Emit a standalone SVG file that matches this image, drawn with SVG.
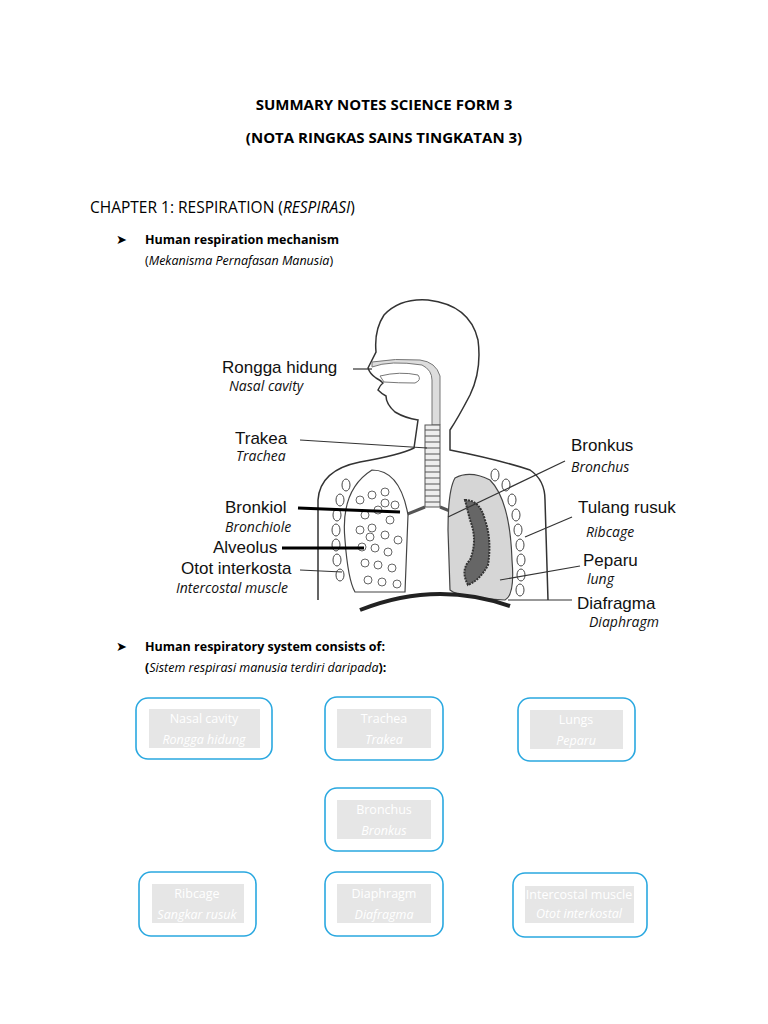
<svg xmlns="http://www.w3.org/2000/svg" width="768" height="1024" viewBox="0 0 768 1024">
<style>
.t{font-family:"Open Sans","Liberation Sans",sans-serif;fill:#000}
.a{font-family:"Liberation Sans",Arial,sans-serif;fill:#111;font-size:17px}
.ai{font-family:"Open Sans","Liberation Sans",sans-serif;font-style:italic;fill:#111;font-size:14px}
.o{fill:none;stroke:#333;stroke-width:1.5}
.box{fill:#fff;stroke:#2aa8e0;stroke-width:1.6}
.in{fill:#e6e6e6}
.bt{font-family:"Open Sans","Liberation Sans",sans-serif;fill:#fff;font-size:12.5px;text-anchor:middle}
.bi{font-style:italic}
.ln{stroke:#333;stroke-width:1.2;fill:none}
.th{stroke:#000;stroke-width:3;fill:none}
.rib{fill:#fff;stroke:#444;stroke-width:1}
</style>
<rect width="768" height="1024" fill="#fff"/>
<text class="t" x="384" y="110" font-size="15" font-weight="bold" text-anchor="middle">SUMMARY NOTES SCIENCE FORM 3</text>
<text class="t" x="384" y="143" font-size="15" font-weight="bold" text-anchor="middle">(NOTA RINGKAS SAINS TINGKATAN 3)</text>
<text class="t" x="90" y="213" font-size="15.5">CHAPTER 1: RESPIRATION (<tspan font-style="italic">RESPIRASI</tspan>)</text>
<text class="t" x="116" y="244" font-size="13">➤</text>
<text class="t" x="145" y="244" font-size="12.5" font-weight="bold">Human respiration mechanism</text>
<text class="t" x="145" y="265" font-size="12.5">(<tspan font-style="italic">Mekanisma Pernafasan Manusia</tspan>)</text>
<text class="t" x="116" y="651" font-size="13">➤</text>
<text class="t" x="145" y="651" font-size="12.5" font-weight="bold">Human respiratory system consists of:</text>
<text class="t" x="145" y="672" font-size="12.5"><tspan font-weight="bold">(</tspan><tspan font-style="italic">Sistem respirasi manusia terdiri daripada</tspan><tspan font-weight="bold">):</tspan></text>

<g id="anatomy">
<path class="o" d="M318,600 L318,500 Q320,470 360,462 Q400,455 414,448 L418,420 Q405,418 395,412 Q386,404 386,396 Q382,394 378,390 Q380,385 383,383 Q380,380 376,378 Q370,374 368,368 Q372,360 376,352 Q374,330 384,315 Q400,298 428,300 Q470,305 478,340 Q482,370 470,395 Q458,418 450,430 L450,450 Q500,460 530,470 Q545,480 545,500 L548,600"/>
<path d="M372,367 Q390,360 422,365 Q432,370 432,380 L432,425 L440,425 L440,376 Q436,362 420,360 Q395,358 372,362 Z" fill="#ddd" stroke="#777" stroke-width="1"/>
<path d="M380,376 Q400,371 418,375 Q422,380 415,383 Q398,383 384,382 Z" fill="#fff" stroke="#777" stroke-width="1"/>
<g stroke="#555" stroke-width="1" fill="#eee">
<rect x="425" y="425" width="15" height="82"/>
<path d="M425,430h15M425,436h15M425,442h15M425,448h15M425,454h15M425,460h15M425,466h15M425,472h15M425,478h15M425,484h15M425,490h15M425,496h15M425,502h15" fill="none"/>
<path d="M425,507 L405,515 L400,522 M440,507 L460,515 L465,522" fill="none" stroke-width="3"/>
</g>
<path d="M372,470 Q340,490 345,540 Q348,580 355,592 L405,592 L408,515 Q400,470 372,470 Z" fill="#fff" stroke="#444" stroke-width="1.2"/>
<g fill="#fff" stroke="#555" stroke-width="0.9">
<circle cx="360" cy="500" r="4"/><circle cx="372" cy="495" r="4"/><circle cx="385" cy="492" r="4"/><circle cx="395" cy="505" r="4"/><circle cx="365" cy="515" r="4"/><circle cx="378" cy="510" r="4"/><circle cx="390" cy="520" r="4"/><circle cx="360" cy="530" r="4"/><circle cx="372" cy="528" r="4"/><circle cx="385" cy="535" r="4"/><circle cx="398" cy="540" r="4"/><circle cx="362" cy="547" r="4"/><circle cx="375" cy="548" r="4"/><circle cx="388" cy="552" r="4"/><circle cx="365" cy="563" r="4"/><circle cx="378" cy="565" r="4"/><circle cx="392" cy="568" r="4"/><circle cx="368" cy="580" r="4"/><circle cx="382" cy="582" r="4"/><circle cx="397" cy="584" r="4"/><circle cx="370" cy="537" r="4"/><circle cx="385" cy="503" r="4"/>
</g>
<path d="M455,478 Q448,490 448,530 L450,590 Q460,598 505,600 Q515,595 512,560 Q510,500 490,480 Q470,470 455,478 Z" fill="#d6d6d6" stroke="#444" stroke-width="1.2"/>
<path d="M465,500 Q480,500 485,520 Q492,540 488,565 Q480,580 468,585 Q460,570 470,560 Q478,540 470,520 Z" fill="#666" stroke="#333" stroke-width="2" stroke-dasharray="2 1"/>
<g class="rib">
<ellipse cx="346" cy="485" rx="4" ry="6"/><ellipse cx="340" cy="500" rx="4" ry="6"/><ellipse cx="337" cy="515" rx="4" ry="6"/><ellipse cx="336" cy="530" rx="4" ry="6"/><ellipse cx="336" cy="545" rx="4" ry="6"/><ellipse cx="337" cy="560" rx="4" ry="6"/><ellipse cx="340" cy="575" rx="4" ry="6"/>
<ellipse cx="495" cy="475" rx="4" ry="6"/><ellipse cx="506" cy="485" rx="4" ry="6"/><ellipse cx="512" cy="500" rx="4" ry="6"/><ellipse cx="516" cy="515" rx="4" ry="6"/><ellipse cx="518" cy="530" rx="4" ry="6"/><ellipse cx="520" cy="545" rx="4" ry="6"/><ellipse cx="521" cy="560" rx="4" ry="6"/><ellipse cx="521" cy="575" rx="4" ry="6"/><ellipse cx="520" cy="590" rx="4" ry="6"/>
</g>
<path d="M360,610 Q435,580 510,606" fill="none" stroke="#222" stroke-width="4"/>
</g>

<g id="labels">
<text class="a" x="222" y="373">Rongga hidung</text><text class="ai" x="229" y="391">Nasal cavity</text>
<text class="a" x="235" y="444">Trakea</text><text class="ai" x="236" y="461">Trachea</text>
<text class="a" x="571" y="451">Bronkus</text><text class="ai" x="571" y="472">Bronchus</text>
<text class="a" x="225" y="513">Bronkiol</text><text class="ai" x="225" y="532">Bronchiole</text>
<text class="a" x="213" y="553">Alveolus</text>
<text class="a" x="181" y="574">Otot interkosta</text><text class="ai" x="176" y="593">Intercostal muscle</text>
<text class="a" x="578" y="513">Tulang rusuk</text><text class="ai" x="586" y="537">Ribcage</text>
<text class="a" x="583" y="566">Peparu</text><text class="ai" x="587" y="584">lung</text>
<text class="a" x="577" y="609">Diafragma</text><text class="ai" x="589" y="627">Diaphragm</text>
</g>
<g id="connectors">
<path class="ln" d="M353,369 L372,369"/>
<path class="ln" d="M300,440 L427,448"/>
<path class="ln" d="M565,461 L448,517"/>
<path class="th" d="M298,508 L400,512"/>
<path class="th" d="M282,548 L364,548"/>
<path class="ln" d="M300,570 L342,572"/>
<path class="ln" d="M572,517 L525,537"/>
<path class="ln" d="M580,566 L500,580"/>
<path class="ln" d="M508,600 L572,600"/>
</g>

<g id="n1"><rect class="box" x="136" y="698" width="136" height="61" rx="12"/><rect class="in" x="149" y="709" width="111" height="39"/><text class="bt" x="204" y="723">Nasal cavity</text><text class="bt bi" x="204" y="744">Rongga hidung</text></g>
<g id="n2"><rect class="box" x="325" y="697" width="118" height="63" rx="12"/><rect class="in" x="337" y="709" width="94" height="39"/><text class="bt" x="384" y="723">Trachea</text><text class="bt bi" x="384" y="744">Trakea</text></g>
<g id="n3"><rect class="box" x="518" y="698" width="117" height="63" rx="12"/><rect class="in" x="530" y="710" width="93" height="39"/><text class="bt" x="576" y="724">Lungs</text><text class="bt bi" x="576" y="745">Peparu</text></g>
<g id="n4"><rect class="box" x="325" y="788" width="118" height="63" rx="12"/><rect class="in" x="337" y="800" width="94" height="39"/><text class="bt" x="384" y="814">Bronchus</text><text class="bt bi" x="384" y="835">Bronkus</text></g>
<g id="n5"><rect class="box" x="139" y="872" width="117" height="64" rx="12"/><rect class="in" x="152" y="884" width="92" height="39"/><text class="bt" x="197" y="898">Ribcage</text><text class="bt bi" x="197" y="919">Sangkar rusuk</text></g>
<g id="n6"><rect class="box" x="325" y="872" width="118" height="64" rx="12"/><rect class="in" x="337" y="884" width="94" height="39"/><text class="bt" x="384" y="898">Diaphragm</text><text class="bt bi" x="384" y="919">Diafragma</text></g>
<g id="n7"><rect class="box" x="513" y="873" width="134" height="64" rx="12"/><rect class="in" x="525" y="886" width="109" height="37"/><text class="bt" x="579" y="899" font-size="12">Intercostal muscle</text><text class="bt bi" x="579" y="918" font-size="12">Otot interkostal</text></g>
</svg>
